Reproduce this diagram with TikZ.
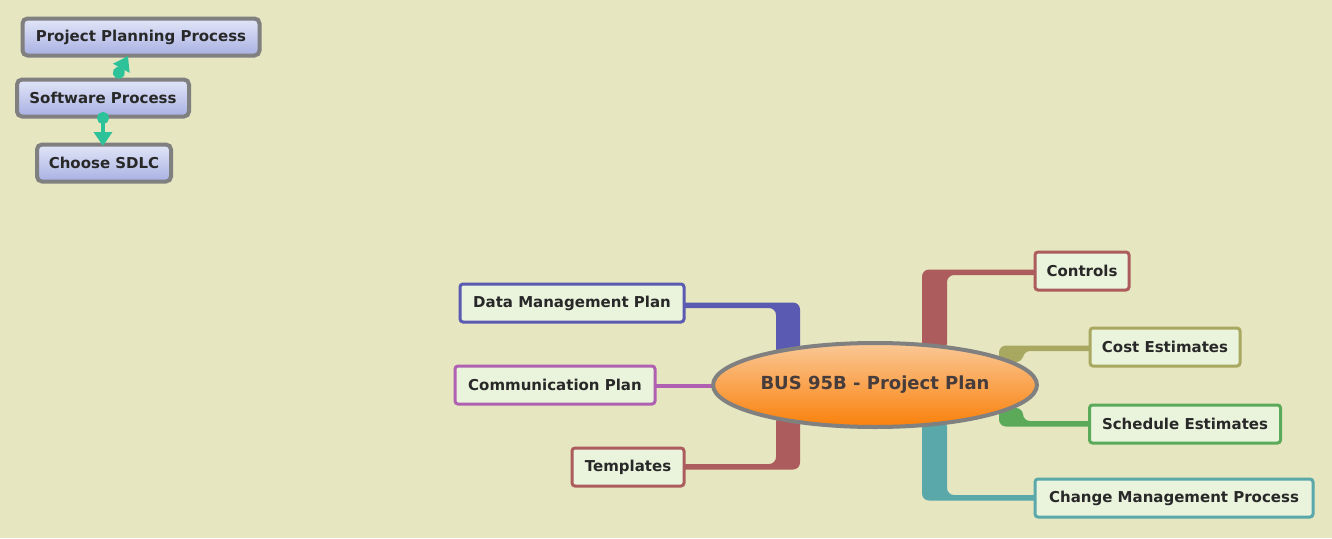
\documentclass[tikz,border=0pt]{standalone}
\usepackage{fontspec}
\setmainfont{DejaVu Sans}
\usetikzlibrary{arrows.meta,shapes.geometric}
\definecolor{bg}{RGB}{230,230,192}
\definecolor{cdata}{RGB}{90,90,178}
\definecolor{ccomm}{RGB}{176,96,176}
\definecolor{ctmp}{RGB}{172,92,92}
\definecolor{ccost}{RGB}{168,168,96}
\definecolor{csch}{RGB}{90,170,90}
\definecolor{cchg}{RGB}{90,168,170}
\definecolor{cgreen}{RGB}{45,194,154}
\definecolor{txt}{RGB}{40,40,40}
\tikzset{
 leaf/.style={draw=#1,line width=3pt,rounded corners=3pt,fill={rgb,255:red,234;green,243;blue,220},font=\bfseries\fontsize{15}{18}\selectfont,text=txt,minimum height=38pt,inner sep=0pt},
 topbox/.style={draw={rgb,255:red,128;green,128;blue,128},line width=4pt,rounded corners=5pt,top color={rgb,255:red,226;green,230;blue,248},bottom color={rgb,255:red,168;green,176;blue,226},font=\bfseries\fontsize{15}{18}\selectfont,text=txt,minimum height=37pt,inner sep=0pt},
 thin/.style={draw=#1,line width=4pt},
 branch/.style={fill=#1,rounded corners=7pt},
 garrow/.style={cgreen,line width=3.5pt,{Circle[length=12pt]}-{Triangle[length=14pt,width=18pt]}},
}
\begin{document}
\begin{tikzpicture}[x=1pt,y=-1pt]
\fill[bg] (0,0) rectangle (1332,538);
\useasboundingbox (0,0) rectangle (1332,538);
% branches
\fill[branch=cdata] (684,302.5) -- (800,302.5) -- (800,360) -- (776,360) -- (776,308) [sharp corners] -- (684,308) -- cycle;
\draw[thin=ccomm] (655,386) -- (725,386);
\fill[branch=ctmp] (684,469.5) -- (800,469.5) -- (800,415) -- (776,415) -- (776,464) [sharp corners] -- (684,464) -- cycle;
\fill[branch=ctmp] (1036,269.5) -- (922,269.5) -- (922,350) -- (947,350) -- (947,275) [sharp corners] -- (1036,275) -- cycle;
\fill[branch=ccost] (1090,345.5) -- (999,345.5) -- (999,362) -- (1023,362) -- (1023,351) [sharp corners] -- (1090,351) -- cycle;
\fill[branch=csch] (1090,426.5) -- (999,426.5) -- (999,408) -- (1023,408) -- (1023,421) [sharp corners] -- (1090,421) -- cycle;
\fill[branch=cchg] (1036,500.5) -- (922,500.5) -- (922,420) -- (947,420) -- (947,495) [sharp corners] -- (1036,495) -- cycle;
% center
\node[ellipse,draw={rgb,255:red,128;green,128;blue,128},line width=4pt,inner sep=0pt,minimum width=310pt,minimum height=84pt,top color={rgb,255:red,250;green,200;blue,150},bottom color={rgb,255:red,250;green,128;blue,10},font=\bfseries\fontsize{18}{21}\selectfont,text={rgb,255:red,70;green,60;blue,60}] (c) at (875,385) {BUS 95B - Project Plan};
% leaves
\node[leaf=cdata,minimum width=224pt] (dm) at (572,303) {Data Management Plan};
\node[leaf=ccomm,minimum width=200pt] (cp) at (555,385) {Communication Plan};
\node[leaf=ctmp,minimum width=112pt] (tp) at (628,467) {Templates};
\node[leaf=ctmp,minimum width=94pt] (ct) at (1082,271) {Controls};
\node[leaf=ccost,minimum width=150pt] (ce) at (1165,347) {Cost Estimates};
\node[leaf=csch,minimum width=191pt] (se) at (1185,424) {Schedule Estimates};
\node[leaf=cchg,minimum width=278pt] (cm) at (1174,498) {Change Management Process};
% top-left
\node[topbox,minimum width=237pt] (pp) at (141,37) {Project Planning Process};
\node[topbox,minimum width=172pt] (sp) at (103,98) {Software Process};
\node[topbox,minimum width=134pt] (sd) at (104,163) {Choose SDLC};
\draw[garrow] (116,78) -- (128,56);
\draw[garrow] (103,112) -- (103,146);
\end{tikzpicture}
\end{document}
